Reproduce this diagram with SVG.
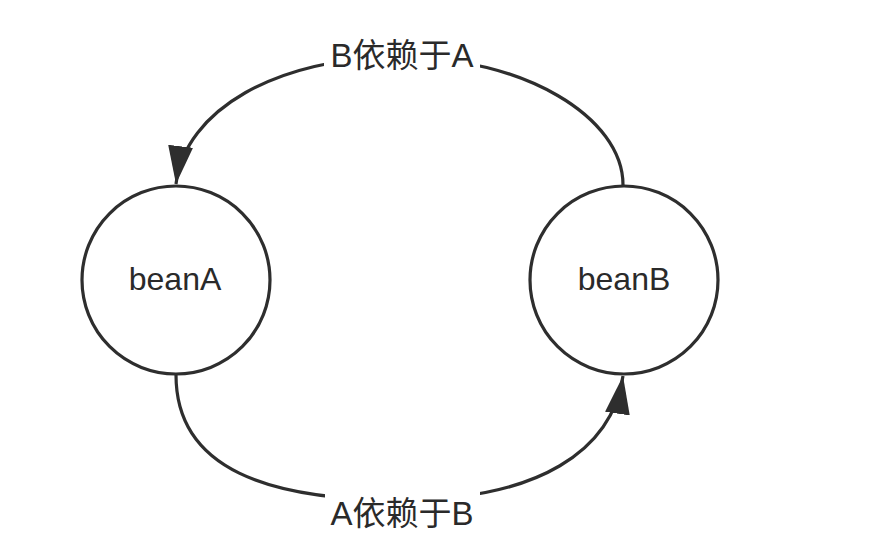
<svg xmlns="http://www.w3.org/2000/svg" width="880" height="554" viewBox="0 0 880 554">
  <style>
    .node circle { fill: #ffffff; stroke: #2e2e2e; stroke-width: 3.2; }
    .node text { font-family: "Liberation Sans", Arial, sans-serif; font-size: 32px; fill: #2a2a2a; text-anchor: middle; }
    .edge { fill: none; stroke: #2e2e2e; stroke-width: 3.2; }
    .label rect { fill: #ffffff; }
    .label text { font-family: "Liberation Sans", "Noto Sans CJK SC", sans-serif; font-size: 33px; fill: #2a2a2a; text-anchor: middle; }
  </style>
  <defs>
    <marker id="arrow" markerUnits="userSpaceOnUse" markerWidth="40" markerHeight="26" refX="38" refY="12.5" orient="auto">
      <path d="M0,0 L38,12.5 L0,25 Z" fill="#2e2e2e"/>
    </marker>
  </defs>
  <rect width="880" height="554" fill="#ffffff"/>
  <g id="connectors">
    <path class="edge" d="M 623 185 C 623 117 523 57 400 57 C 277 57 185 110 176 184" marker-end="url(#arrow)"/>
    <path class="edge" d="M 176 375 C 176 470 270 500 400 500 C 540 500 612 450 623 376" marker-end="url(#arrow)"/>
    <g class="label" id="label-top">
      <rect x="324" y="38" width="156" height="36"/>
      <text x="402" y="67">B依赖于A</text>
    </g>
    <g class="label" id="label-bottom">
      <rect x="325" y="489" width="155" height="42"/>
      <text x="402" y="525">A依赖于B</text>
    </g>
  </g>
  <g id="beanA" class="node">
    <circle cx="176" cy="280" r="94"/>
    <text x="175" y="290">beanA</text>
  </g>
  <g id="beanB" class="node">
    <circle cx="624" cy="280" r="94"/>
    <text x="624" y="290">beanB</text>
  </g>
</svg>
